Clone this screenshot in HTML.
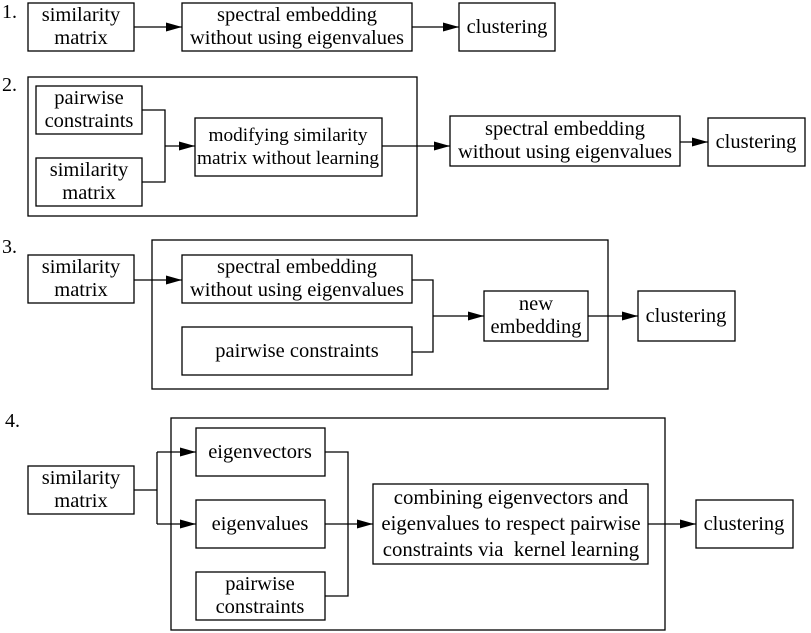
<!DOCTYPE html>
<html><head><style>
body{margin:0;background:#fff;width:811px;height:633px;position:relative;overflow:hidden}
svg{display:block;position:absolute;left:0;top:0}
.t{position:absolute;font-family:"Liberation Serif","Times New Roman",serif;font-size:20.5px;line-height:23px;color:#000;text-align:center;white-space:nowrap;transform:translateX(-50%)}
.l{position:absolute;font-family:"Liberation Serif","Times New Roman",serif;font-size:20px;line-height:20px;color:#000}
</style></head><body>
<svg width="811" height="633" viewBox="0 0 811 633" xmlns="http://www.w3.org/2000/svg">
<defs><marker id="a" viewBox="0 0 10 10" refX="10" refY="5" markerWidth="16" markerHeight="9" markerUnits="userSpaceOnUse" orient="auto" preserveAspectRatio="none"><path d="M0,0L10,5L0,10z" fill="#000"/></marker></defs>
<g fill="none" stroke="#000" stroke-width="1.3">
<rect x="28" y="3" width="106" height="48"/><rect x="182" y="3" width="230" height="48"/><rect x="459" y="3" width="96" height="48"/>
<path d="M134,27H182" marker-end="url(#a)"/><path d="M412,27H459" marker-end="url(#a)"/>
<rect x="28" y="77" width="389" height="139"/>
<rect x="36" y="86" width="106" height="48"/><rect x="36" y="158" width="106" height="48"/>
<path d="M142,110H165V182H142"/><path d="M165,146H195" marker-end="url(#a)"/>
<rect x="195" y="118" width="187" height="58"/>
<path d="M382,146H450" marker-end="url(#a)"/>
<rect x="450" y="116" width="230" height="50"/>
<path d="M680,142H708" marker-end="url(#a)"/>
<rect x="708" y="118" width="97" height="48"/>
<rect x="28" y="255" width="106" height="48"/>
<rect x="152" y="240" width="456" height="149"/>
<path d="M134,280H182" marker-end="url(#a)"/>
<rect x="182" y="255" width="230" height="48"/><rect x="182" y="327" width="230" height="48"/>
<path d="M412,280H433V352H412"/><path d="M433,316H484" marker-end="url(#a)"/>
<rect x="484" y="291" width="104" height="50"/>
<path d="M588,316H638" marker-end="url(#a)"/>
<rect x="638" y="291" width="97" height="50"/>
<rect x="171" y="418" width="494" height="212"/>
<rect x="28" y="466" width="106" height="48"/>
<path d="M134,490H157"/><path d="M157,452V524"/>
<path d="M157,452H196" marker-end="url(#a)"/><path d="M157,524H196" marker-end="url(#a)"/>
<rect x="196" y="428" width="129" height="48"/><rect x="196" y="500" width="129" height="48"/><rect x="196" y="572" width="129" height="48"/>
<path d="M325,452H348V596H325"/><path d="M325,524H373" marker-end="url(#a)"/>
<rect x="373" y="484" width="275" height="80"/>
<path d="M648,524H696" marker-end="url(#a)"/>
<rect x="696" y="500" width="97" height="48"/>
</g>
</svg>
<div class="t" style="left:81px;top:4px">similarity<br>matrix</div>
<div class="t" style="left:297px;top:4px">spectral embedding<br>without using eigenvalues</div>
<div class="t" style="left:507px;top:16px">clustering</div>
<div class="t" style="left:89px;top:87px">pairwise<br>constraints</div>
<div class="t" style="left:89px;top:159px">similarity<br>matrix</div>
<div class="t" style="left:288px;top:124px;font-size:19.3px">modifying similarity<br>matrix without learning</div>
<div class="t" style="left:565px;top:118px">spectral embedding<br>without using eigenvalues</div>
<div class="t" style="left:756px;top:131px">clustering</div>
<div class="t" style="left:81px;top:256px">similarity<br>matrix</div>
<div class="t" style="left:297px;top:256px">spectral embedding<br>without using eigenvalues</div>
<div class="t" style="left:297px;top:340px">pairwise constraints</div>
<div class="t" style="left:536px;top:293px">new<br>embedding</div>
<div class="t" style="left:686px;top:305px">clustering</div>
<div class="t" style="left:81px;top:467px">similarity<br>matrix</div>
<div class="t" style="left:260px;top:441px">eigenvectors</div>
<div class="t" style="left:260px;top:513px">eigenvalues</div>
<div class="t" style="left:260px;top:573px">pairwise<br>constraints</div>
<div class="t" style="left:511px;top:485px;line-height:26px;font-size:20.8px">combining eigenvectors and<br>eigenvalues to respect pairwise<br>constraints via&nbsp; kernel learning</div>
<div class="t" style="left:744px;top:513px">clustering</div>
<div class="l" style="left:2px;top:2px">1.</div>
<div class="l" style="left:2px;top:75px">2.</div>
<div class="l" style="left:2px;top:237px">3.</div>
<div class="l" style="left:5px;top:411px">4.</div>
</body></html>
